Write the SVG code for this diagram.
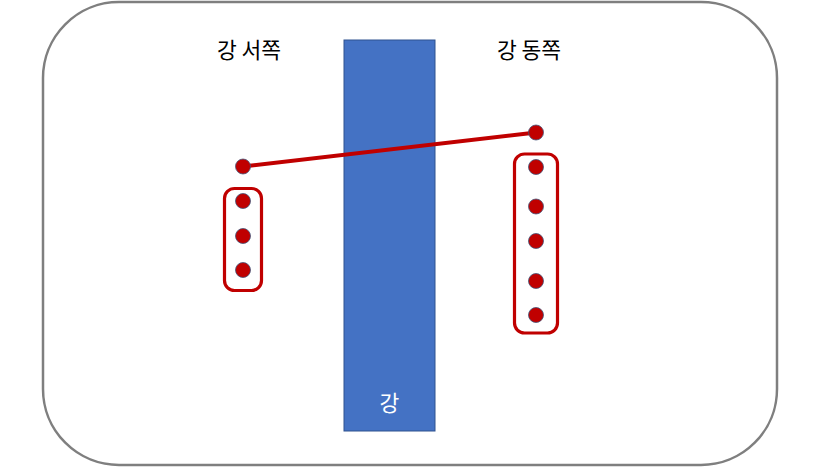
<svg xmlns="http://www.w3.org/2000/svg" width="820" height="467" viewBox="0 0 820 467">
<style>
.lbl{font-family:"Noto Sans CJK KR","Noto Sans",sans-serif;font-size:21.5px;text-anchor:middle;fill:#000}
.dot{fill:#c00000;stroke:#41557a;stroke-width:0.8}
.grp{fill:none;stroke:#c00000;stroke-width:3.2}
</style>
<rect width="820" height="467" fill="#fff"/>
<g id="frame"><rect x="43" y="2" width="734" height="463" rx="76" ry="76" fill="#fff" stroke="#7f7f7f" stroke-width="2.5"/></g>
<g id="river">
<rect x="344" y="40" width="91" height="391" fill="#4472c4" stroke="#2f528f" stroke-width="1"/>
<text x="389.5" y="411" class="lbl" style="fill:#fff">강</text>
</g>
<g id="west-label"><text x="249" y="58" class="lbl">강 서쪽</text></g>
<g id="east-label"><text x="529" y="58" class="lbl">강 동쪽</text></g>
<g id="connectors">
<line x1="243" y1="166.5" x2="536" y2="132.5" stroke="#c00000" stroke-width="4"/>
</g>
<g id="west-group">
<rect x="224.5" y="188.5" width="37" height="102" rx="10" class="grp"/>
<circle cx="243" cy="201" r="7.5" class="dot"/>
<circle cx="243" cy="236" r="7.5" class="dot"/>
<circle cx="243" cy="270" r="7.5" class="dot"/>
</g>
<g id="west-end"><circle cx="243" cy="166.5" r="7.5" class="dot"/></g>
<g id="east-end"><circle cx="536" cy="132.5" r="7.5" class="dot"/></g>
<g id="east-group">
<rect x="514.5" y="154" width="43" height="179" rx="10" class="grp"/>
<circle cx="536" cy="167" r="7.5" class="dot"/>
<circle cx="536" cy="206.5" r="7.5" class="dot"/>
<circle cx="536" cy="241" r="7.5" class="dot"/>
<circle cx="536" cy="281" r="7.5" class="dot"/>
<circle cx="536" cy="315" r="7.5" class="dot"/>
</g>
</svg>
